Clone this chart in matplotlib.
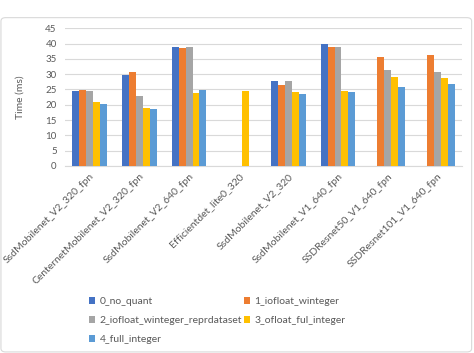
import matplotlib
matplotlib.use("Agg")
import matplotlib.pyplot as plt
from matplotlib.patches import FancyBboxPatch
import numpy as np

categories = ["SsdMobilenet_V2_320_fpn", "CenternetMobilenet_V2_320_fpn",
              "SsdMobilenet_V2_640_fpn", "Efficientdet_lite0_320",
              "SsdMobilenet_V2_320", "SsdMobilenet_V1_640_fpn",
              "SSDResnet50_V1_640_fpn", "SSDResnet101_V1_640_fpn"]
series_names = ["0_no_quant", "1_iofloat_winteger", "2_iofloat_winteger_reprdataset",
                "3_ofloat_ful_integer", "4_full_integer"]
no_quant = [24.5, 29.8, 39.0, None, 27.8, 39.7, None, None]
iofloat_winteger = [24.9, 30.6, 38.7, None, 26.5, 39.0, 35.5, 36.2]
iofloat_winteger_repr = [24.5, 22.8, 39.0, None, 27.6, 38.8, 31.5, 30.7]
ofloat_ful_integer = [20.8, 18.8, 23.9, 24.4, 24.1, 24.4, 29.1, 28.8]
full_integer = [20.3, 18.6, 24.9, None, 23.5, 24.3, 25.8, 26.8]
yticks = [0, 5, 10, 15, 20, 25, 30, 35, 40, 45]

series = [no_quant, iofloat_winteger, iofloat_winteger_repr, ofloat_ful_integer, full_integer]
colors = ["#4472C4", "#ED7D31", "#A5A5A5", "#FFC000", "#5B9BD5"]

plt.rcParams['font.family'] = ['Lato', 'DejaVu Sans']

fig = plt.figure(figsize=(4.74, 3.53), dpi=100)
# chart frame
frame = FancyBboxPatch((0.002, 0.003), 0.993, 0.947, boxstyle="round,pad=0,rounding_size=0.01",
                       transform=fig.transFigure, facecolor="white", edgecolor="#D9D9D9",
                       linewidth=0.8, zorder=-10)
fig.patches.append(frame)

ax = fig.add_axes([0.137, 0.530, 0.838, 0.390])
ax.set_facecolor("none")
x = np.arange(len(categories))
w = 0.14
handles = []
for i, (vals, c, name) in enumerate(zip(series, colors, series_names)):
    v = np.array([np.nan if t is None else t for t in vals], dtype=float)
    h = ax.bar(x + (i - 2) * w, v, width=w, color=c, label=name, zorder=3)
    handles.append(h)

ax.set_xlim(-0.5, len(categories) - 0.5)
ax.set_ylim(0, 45)
ax.set_yticks(yticks)
ax.yaxis.grid(True, color="#D9D9D9", linewidth=0.8, zorder=0)
for s in ["top", "right", "left"]:
    ax.spines[s].set_visible(False)
ax.spines["bottom"].set_color("#D9D9D9")
ax.spines["bottom"].set_linewidth(0.8)
ax.tick_params(axis="both", length=0, colors="#595959", labelsize=7)
ax.tick_params(axis="y", pad=6)
ax.set_xticks(x)
ax.set_xticklabels(categories, rotation=45, ha="right", rotation_mode="anchor", fontsize=7.5)
ax.tick_params(axis="x", pad=4)
ax.set_ylabel("Time (ms)", color="#595959", fontsize=7.5, labelpad=15)

order = [0, 2, 4, 1, 3]
leg = fig.legend(handles=[handles[i] for i in order], labels=[series_names[i] for i in order],
                 ncol=2, loc="upper left",
                 bbox_to_anchor=(0.188, 0.158), frameon=False, fontsize=7.5,
                 handlelength=0.6, handleheight=0.6, handletextpad=0.4,
                 columnspacing=0.2, labelspacing=0.95, borderaxespad=0, borderpad=0)
for t in leg.get_texts():
    t.set_color("#595959")

fig.savefig("out.png", dpi=100)
